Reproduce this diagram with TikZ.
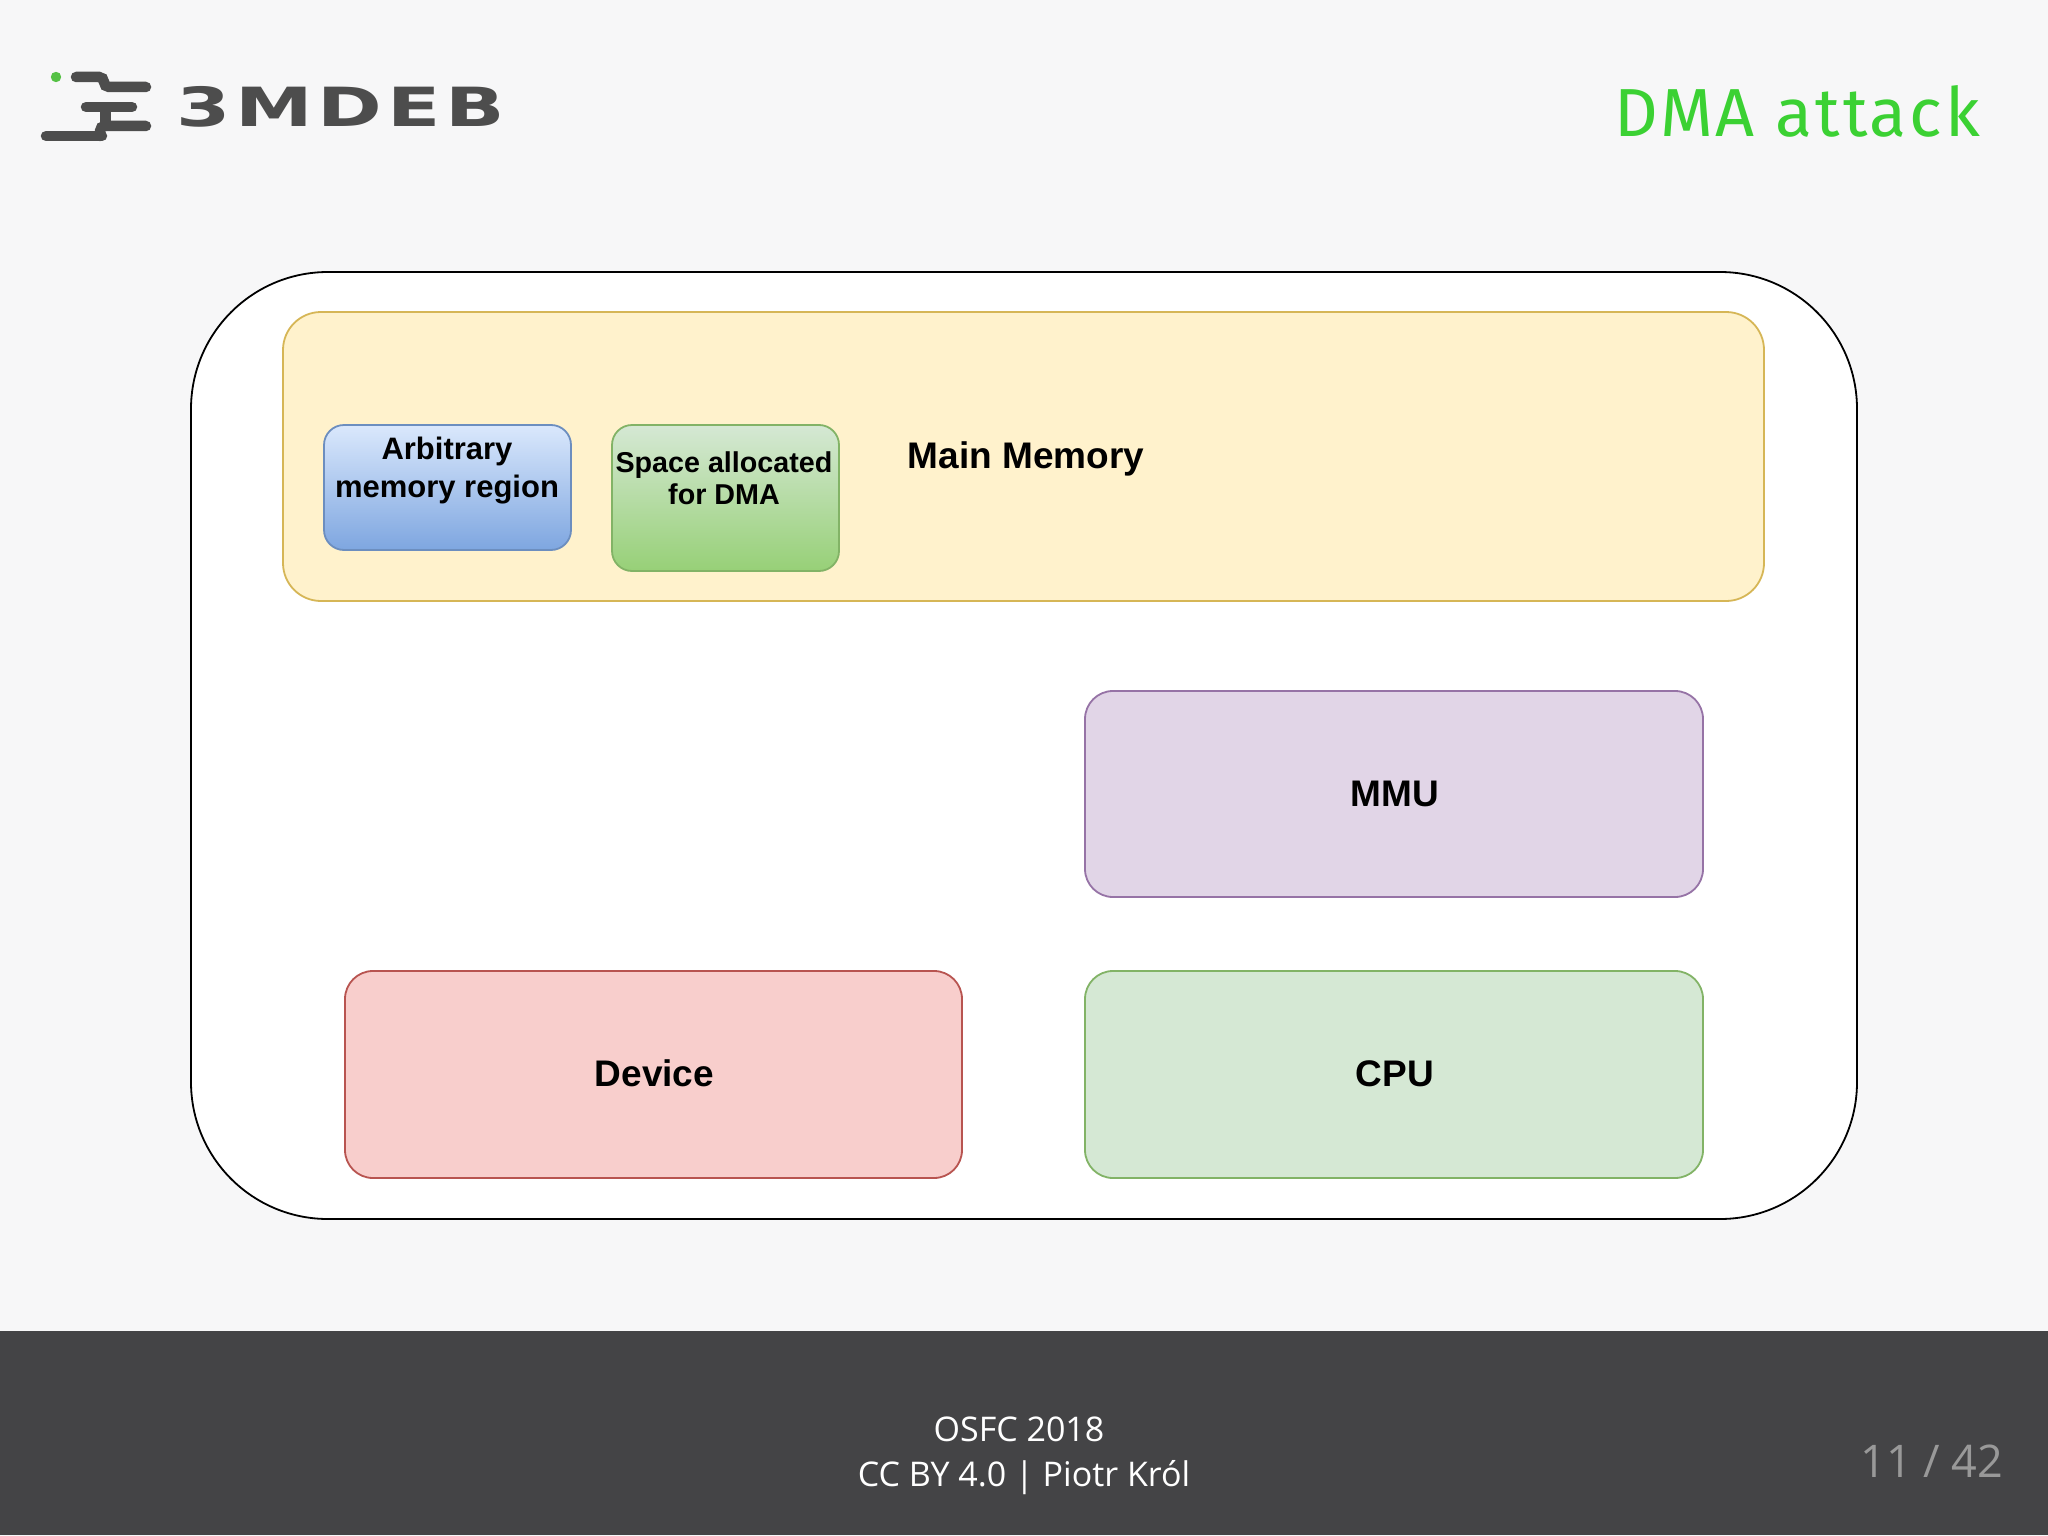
\documentclass[tikz,border=0pt]{standalone}
\usepackage{fontspec}
\setmainfont{Liberation Sans}
\newfontfamily\footfont{Open Sans}
\newfontfamily\titlefont[LetterSpace=4.2]{Fira Sans}
\newfontfamily\logofont[LetterSpace=6]{DejaVu Sans}
\definecolor{pagebg}{HTML}{F7F7F8}
\definecolor{footbg}{HTML}{444446}
\definecolor{footnum}{HTML}{999999}
\definecolor{logogray}{HTML}{4D4D4D}
\definecolor{logogreen}{HTML}{55C145}
\definecolor{titlegreen}{HTML}{3BD133}
\definecolor{memoryline}{HTML}{D6B656}
\definecolor{memoryfill}{HTML}{FFF2CC}
\definecolor{regionline}{HTML}{6C8EBF}
\definecolor{regiontop}{HTML}{DAE8FC}
\definecolor{regionbottom}{HTML}{7EA6E0}
\definecolor{dmaline}{HTML}{82B366}
\definecolor{dmatop}{HTML}{D5E8D4}
\definecolor{dmabottom}{HTML}{97D077}
\definecolor{mmuline}{HTML}{9673A6}
\definecolor{mmufill}{HTML}{E1D5E7}
\definecolor{deviceline}{HTML}{B85450}
\definecolor{devicefill}{HTML}{F8CECC}
\definecolor{cpuline}{HTML}{82B366}
\definecolor{cpufill}{HTML}{D5E8D4}
\tikzset{
	box/.style={draw, rounded corners=28pt, inner sep=0pt, outer sep=0pt, line width=1.8pt},
	boxlabel/.style={font=\fontsize{37}{44}\selectfont\bfseries, inner sep=0pt, xshift=1pt},
	smalllabel/.style={align=center, inner sep=0pt, anchor=base},
	logostroke/.style={draw=logogray, line width=10.5pt, line cap=round, rounded corners=5pt},
}
\begin{document}
\begin{tikzpicture}[x=1pt, y=-1pt]
	\useasboundingbox (0,0) rectangle (2048,1536);
	\fill[pagebg] (0,0) rectangle (2048,1536);

	% logo
	\draw[logostroke] (76,77) -- (104,77) -- (104,87) -- (146,87);
	\draw[logostroke] (86,107) -- (132,107);
	\draw[logostroke] (100,136) -- (100,126) -- (146,126);
	\draw[logostroke] (46,136) -- (102,136);
	\fill[logogray] (100,107) rectangle (111,126);
	\fill[logogreen] (56,77) circle (5.2);
	\node (brand) at (340.5,106.5) [inner sep=0pt, text=logogray] {\scalebox{1.445}[1.0]{\logofont\fontsize{54}{54}\selectfont\bfseries 3MDEB}};

	% title
	\node (title) at (1797,137) [anchor=base, inner sep=0pt, text=titlegreen, font=\titlefont\fontsize{68}{68}\selectfont] {DMA attack};

	% outer frame
	\node (board) at (1024,745.5) [box, draw=black, fill=white, rounded corners=137pt, minimum width=1666pt, minimum height=947pt] {};

	% main memory
	\node (memory) at (1023.5,456.5) [box, draw=memoryline, fill=memoryfill, rounded corners=38pt, minimum width=1481pt, minimum height=289pt] {};
	\node (memorytext) at (1025,468) [boxlabel, anchor=base] {Main Memory};
	\node (region) at (447.5,487.5) [box, draw=regionline, top color=regiontop, bottom color=regionbottom, rounded corners=20pt, minimum width=247pt, minimum height=125pt] {};
	\node (regiontext) at (447,497) [smalllabel, font=\fontsize{31}{37.5}\selectfont\bfseries] {Arbitrary\\memory region};
	\node (dma) at (725.5,498) [box, draw=dmaline, top color=dmatop, bottom color=dmabottom, rounded corners=20pt, minimum width=227pt, minimum height=146pt] {};
	\node (dmatext) at (724,504) [smalllabel, font=\fontsize{28.7}{32}\selectfont\bfseries] {Space allocated\\for DMA};

	% MMU, device, CPU
	\node (mmu) at (1394,794) [box, draw=mmuline, fill=mmufill, minimum width=618pt, minimum height=206pt] {};
	\node (mmutext) at (mmu) [boxlabel] {MMU};
	\node (device) at (653.5,1074.5) [box, draw=deviceline, fill=devicefill, minimum width=617pt, minimum height=207pt] {};
	\node (devicetext) at (device) [boxlabel, yshift=1pt] {Device};
	\node (cpu) at (1394,1074.5) [box, draw=cpuline, fill=cpufill, minimum width=618pt, minimum height=207pt] {};
	\node (cputext) at (cpu) [boxlabel, yshift=1pt] {CPU};

	% footer
	\fill[footbg] (0,1331) rectangle (2048,1535);
	\node (event) at (1019,1441) [anchor=base, inner sep=0pt, text=white, font=\footfont\fontsize{34}{34}\selectfont] {OSFC 2018};
	\node (credit) at (1024,1486) [anchor=base, inner sep=0pt, text=white, font=\footfont\fontsize{34}{34}\selectfont] {CC BY 4.0 | Piotr Król};
	\node (pageno) at (1932,1477) [anchor=base, inner sep=0pt, text=footnum, font=\footfont\fontsize{45}{45}\selectfont] {11 / 42};
\end{tikzpicture}
\end{document}
